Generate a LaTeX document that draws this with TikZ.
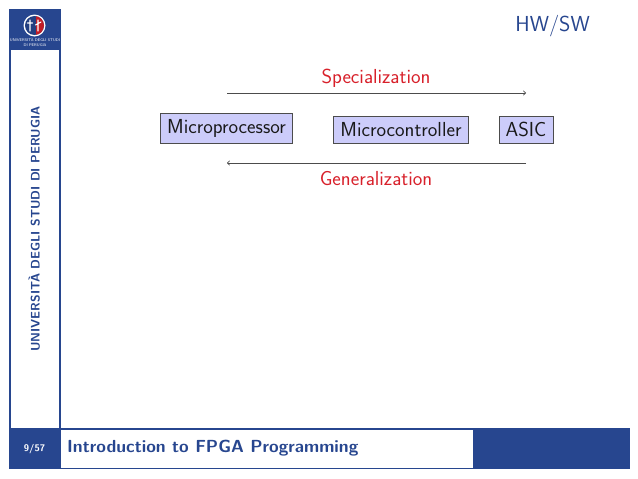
\documentclass[tikz,border=0pt]{standalone}
\usepackage{fontspec}
\definecolor{unipg}{HTML}{27468F}
\definecolor{boxfill}{HTML}{CCCCFA}
\definecolor{labred}{HTML}{D8202A}
\usetikzlibrary{arrows.meta}
\tikzset{
  x=1pt,y=-1pt,
  procbox/.style={draw=black!70,line width=0.7pt,fill=boxfill,inner sep=0pt,font=\sffamily\fontsize{20.3}{22}\selectfont,text=black!90,anchor=center},
  redlabel/.style={text=labred,font=\sffamily\fontsize{20.3}{22}\selectfont,inner sep=0pt},
  arrowline/.style={draw=black!70,line width=0.6pt,-{To[length=3pt,width=5pt]}},
  band/.style={fill=unipg,draw=none},
  frameline/.style={draw=unipg,line width=1.4pt},
}
\begin{document}
\begin{tikzpicture}
\useasboundingbox (0,0) rectangle (638,479);
\fill[white] (0,0) rectangle (638,479);
% frame
\draw[frameline] (10,10) rectangle (60,429);
\fill[band] (9.3,9.3) rectangle (60.7,50);
\fill[band] (9.3,429) rectangle (60,469);
\draw[frameline] (60,429) rectangle (629,468.5);
\fill[band] (473,428.5) rectangle (629.7,469);
% logo
\fill[white] (34.5,25.5) circle (11pt);
\fill[unipg!90!black] (34.5,25.5) circle (9.5pt);
\begin{scope}
\clip (34.5,25.5) circle (9.5pt);
\fill[labred!90!black] (35.5,15) rectangle (46,36);
\end{scope}
\draw[white,line width=1.1pt,line cap=round] (30,20) -- (30,31) (27.5,23) -- (32.5,23) (38,20) -- (38,31) (35.5,25) -- (41,22);
\node[text=white,font=\sffamily\fontsize{3.9}{5}\selectfont,align=center,inner sep=0pt] (logotext) at (35,42.5) {UNIVERSITÀ DEGLI STUDI\\DI PERUGIA};
% side text
\node[rotate=90,text=unipg,font=\sffamily\bfseries\fontsize{12.4}{14}\selectfont,inner sep=0pt] (side) at (34.3,229) {UNIVERSITÀ DEGLI STUDI DI PERUGIA};
% footer
\node[text=white,font=\sffamily\bfseries\fontsize{9.6}{11}\selectfont,inner sep=0pt] (page) at (34.5,449) {9/57};
\node[text=unipg,font=\sffamily\bfseries\fontsize{17.5}{19}\selectfont,inner sep=0pt,anchor=west] (title) at (67,448.5) {Introduction to FPGA Programming};
% heading
\node[text=unipg,font=\sffamily\fontsize{21.7}{24}\selectfont,inner sep=0pt,anchor=east] (hw) at (590,26) {HW/SW};
% boxes
\node[procbox,minimum width=132.5pt,minimum height=30pt] (mp) at (226.5,128) {Microprocessor};
\node[procbox,minimum width=135pt,minimum height=27pt] (mc) at (401,130) {Microcontroller};
\node[procbox,minimum width=54pt,minimum height=27pt] (as) at (526,129.5) {ASIC};
% labels
\node[redlabel] (spec) at (376,78) {Specialization};
\node[redlabel] (gen) at (376,179) {Generalization};
% arrows
\coordinate (al) at (227,93);
\coordinate (ar) at (526,93);
\coordinate (bl) at (227,163);
\coordinate (br) at (526,163);
\draw[arrowline] (al) -- (ar);
\draw[arrowline] (br) -- (bl);
\end{tikzpicture}
\end{document}
